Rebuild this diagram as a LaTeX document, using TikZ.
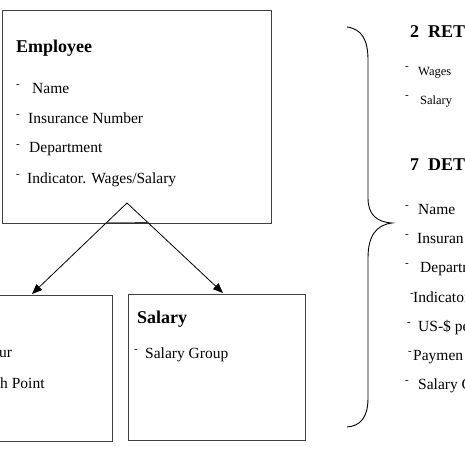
\documentclass[tikz,border=0pt]{standalone}
\usepackage{fontspec}
\setmainfont{Liberation Serif}
\usetikzlibrary{arrows.meta, calc}
\tikzset{
  box/.style={draw=black!75, line width=1.1pt, inner sep=0pt},
  head/.style={anchor=base west, inner sep=0pt, font=\fontsize{18}{18}\selectfont\bfseries},
  entry/.style={anchor=base west, inner sep=0pt, font=\fontsize{15.5}{15.5}\selectfont},
  small/.style={anchor=base west, inner sep=0pt, font=\fontsize{12.5}{12.5}\selectfont},
  tick/.style={anchor=base west, inner sep=0pt, yshift=6pt, font=\fontsize{11}{11}\selectfont},
  link/.style={line width=0.8pt, arrows={-Triangle[width=8pt, length=10pt]}},
}

\begin{document}
\begin{tikzpicture}[x=1pt, y=-1pt]
	\clip (0,0) rectangle (465,465);
	% boxes
	\node[box, anchor=north west, minimum width=269pt, minimum height=213pt] (employee) at (1.5,10) {};
	\node[box, anchor=north east, minimum width=170pt, minimum height=146pt] (wages) at (113,295) {};
	\node[box, anchor=north west, minimum width=177pt, minimum height=146pt] (salary) at (128,294) {};
	% employee
	\node[head] (emptitle) at (16,53) {Employee};
	\foreach \txt/\xd/\xt/\yb [count=\i] in {Name/16/32/94, Insurance Number/16/28/124, Department/16/29/153, {Indicator. Wages/Salary}/16/27/183} {
		\node[tick] (empdash\i) at (\xd,\yb) {-};
		\node[entry] (empitem\i) at (\xt,\yb) {\txt};
	}
	% wages and salary
	\node[entry] (wagesitem1) at (-1,357) {ur};
	\node[entry] (wagesitem2) at (0,388) {h Point};
	\node[head] (saltitle) at (137,323) {Salary};
	\node[tick] (saldash1) at (134,358) {-};
	\node[entry] (salitem1) at (145,358) {Salary Group};
	% arrows
	\coordinate (apex) at (127,203);
	\coordinate (lefttip) at (32,294);
	\coordinate (righttip) at (223,293);
	\draw[link] (apex) -- (lefttip);
	\draw[link] (apex) -- (righttip);
	\draw[line width=1.6pt, black!80] ($(apex)!0.222!(lefttip)$) -- ($(apex)!0.222!(righttip)$);
	% brace
	\draw[line width=0.9pt] (347,27) .. controls (362,29) and (368,40) .. (368,60) -- (368,198)
		.. controls (368,214) and (376,222) .. (392,223)
		.. controls (376,225) and (368,236) .. (368,258) -- (368,398)
		.. controls (368,418) and (360,426) .. (347,427);
	% right column
	\node[head] (rettitle) at (410,38) {2\hspace{0.5em}RET};
	\node[tick] (retdash1) at (405,76) {-};
	\node[small] (retitem1) at (418,76) {Wages};
	\node[tick] (retdash2) at (405,105) {-};
	\node[small] (retitem2) at (420,105) {Salary};
	\node[head] (dettitle) at (410,171) {7\hspace{0.5em}DET};
	\foreach \txt/\xd/\xt/\yb [count=\i] in {Name/405/418/214, Insuran/405/417/243, Departm/405/420/272, Indicator/410/413/302, US-\$ pe/407/418/331, Paymen/408/413/360, Salary G/405/418/389} {
		\node[tick] (detdash\i) at (\xd,\yb) {-};
		\node[entry] (detitem\i) at (\xt,\yb) {\txt};
	}
\end{tikzpicture}
\end{document}
